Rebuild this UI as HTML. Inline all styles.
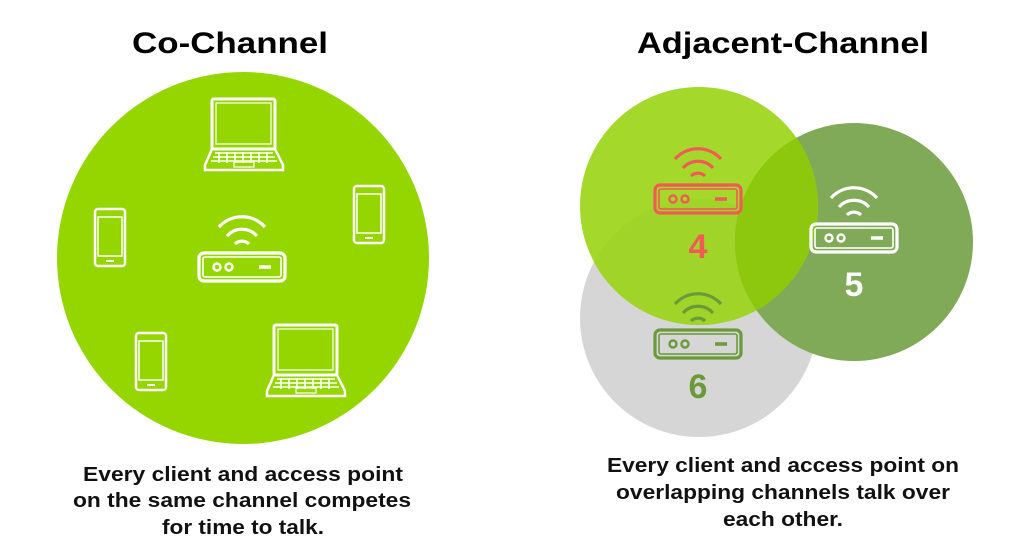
<!DOCTYPE html>
<html><head><meta charset="utf-8"><style>html,body{margin:0;padding:0;background:#fff}svg{display:block}</style></head><body>
<svg width="1024" height="555" viewBox="0 0 1024 555" xmlns="http://www.w3.org/2000/svg">
<defs>
<g id="router" fill="none" stroke-width="3.2">
  <path d="M-23,-29 A31,31 0 0 1 23,-29" />
  <path d="M-15,-20 A20,20 0 0 1 15,-20" />
  <path d="M-7,-12 A10,10 0 0 1 7,-12" />
  <rect x="-43" y="-3" width="86" height="28" rx="5"/>
  <rect x="-39" y="1" width="78" height="20" rx="2" stroke-width="1.6"/>
  <circle cx="-25" cy="11" r="3.5" stroke-width="2.4"/>
  <circle cx="-13" cy="11" r="3.5" stroke-width="2.4"/>
  <line x1="17" y1="11" x2="29" y2="11" stroke-width="3.5"/>
</g>
<g id="phone" fill="none" stroke="#fff">
  <rect x="0" y="0" width="30" height="57" rx="3" stroke-width="2.5"/>
  <rect x="3" y="8" width="24" height="39" stroke-width="1.5"/>
  <line x1="11" y1="52" x2="19" y2="52" stroke-width="2"/>
</g>
<g id="laptop" fill="none" stroke="#fff">
  <rect x="9" y="2" width="63" height="50" rx="2" stroke-width="3"/>
  <rect x="13" y="6" width="55" height="41" stroke-width="1.2"/>
  <path d="M9,52 L2,68 L2,73 L80,73 L80,68 L72,52" stroke-width="2.5"/>
  <path d="M12,56 H70 M10,60 H72 M8,64 H74" stroke-width="1.6"/>
  <path d="M16,55 V66 M24,55 V66 M32,55 V66 M40,55 V66 M48,55 V66 M56,55 V66 M64,55 V66" stroke-width="1.6"/>
  <rect x="31" y="65" width="20" height="5" stroke-width="1.2"/>
</g>
<clipPath id="cl"><circle cx="699" cy="206" r="119"/></clipPath>
<clipPath id="cd"><circle cx="854" cy="242" r="119"/></clipPath>
</defs>
<text x="230" y="53" font-family="Liberation Sans, sans-serif" font-weight="bold" font-size="30" text-anchor="middle" textLength="196" lengthAdjust="spacingAndGlyphs">Co-Channel</text>
<text x="783" y="53" font-family="Liberation Sans, sans-serif" font-weight="bold" font-size="30" text-anchor="middle" textLength="292" lengthAdjust="spacingAndGlyphs">Adjacent-Channel</text>

<circle cx="243" cy="258" r="186" fill="#96d600"/>
<use href="#laptop" x="203" y="97"/>
<use href="#laptop" x="265" y="323"/>
<use href="#phone" x="95" y="209"/>
<use href="#phone" x="354" y="186"/>
<use href="#phone" x="136" y="333"/>
<use href="#router" x="242" y="256" stroke="#fff"/>

<circle cx="699" cy="318" r="119" fill="#d6d6d6"/>
<circle cx="854" cy="242" r="119" fill="#80a958"/>
<circle cx="699" cy="206" r="119" fill="#a4d92c"/>
<circle cx="699" cy="318" r="119" fill="#a0d428" clip-path="url(#cl)"/>
<circle cx="699" cy="206" r="119" fill="#8dc80e" clip-path="url(#cd)"/>
<circle cx="699" cy="318" r="119" fill="#80a958" clip-path="url(#cd)" opacity="0.5"/>
<circle cx="699" cy="206" r="119" fill="#8dc80e" clip-path="url(#cd)"/>
<use href="#router" x="698" y="188" stroke="#f25a55"/>
<use href="#router" x="854" y="227" stroke="#fff"/>
<use href="#router" x="698" y="333" stroke="#6a9a3a"/>
<text x="698" y="258" font-family="Liberation Sans, sans-serif" font-weight="bold" font-size="34" fill="#f25a55" text-anchor="middle">4</text>
<text x="854" y="296" font-family="Liberation Sans, sans-serif" font-weight="bold" font-size="34" fill="#fff" text-anchor="middle">5</text>
<text x="698" y="398" font-family="Liberation Sans, sans-serif" font-weight="bold" font-size="34" fill="#6a9a3a" text-anchor="middle">6</text>

<g font-family="Liberation Sans, sans-serif" font-weight="bold" font-size="20" fill="#111" text-anchor="middle">
<text x="243" y="481" textLength="320" lengthAdjust="spacingAndGlyphs">Every client and access point</text>
<text x="242" y="507" textLength="338" lengthAdjust="spacingAndGlyphs">on the same channel competes</text>
<text x="243" y="534" textLength="162" lengthAdjust="spacingAndGlyphs">for time to talk.</text>
<text x="783" y="472" textLength="352" lengthAdjust="spacingAndGlyphs">Every client and access point on</text>
<text x="783" y="499" textLength="334" lengthAdjust="spacingAndGlyphs">overlapping channels talk over</text>
<text x="783" y="526" textLength="120" lengthAdjust="spacingAndGlyphs">each other.</text>
</g>
</svg>
</body></html>
